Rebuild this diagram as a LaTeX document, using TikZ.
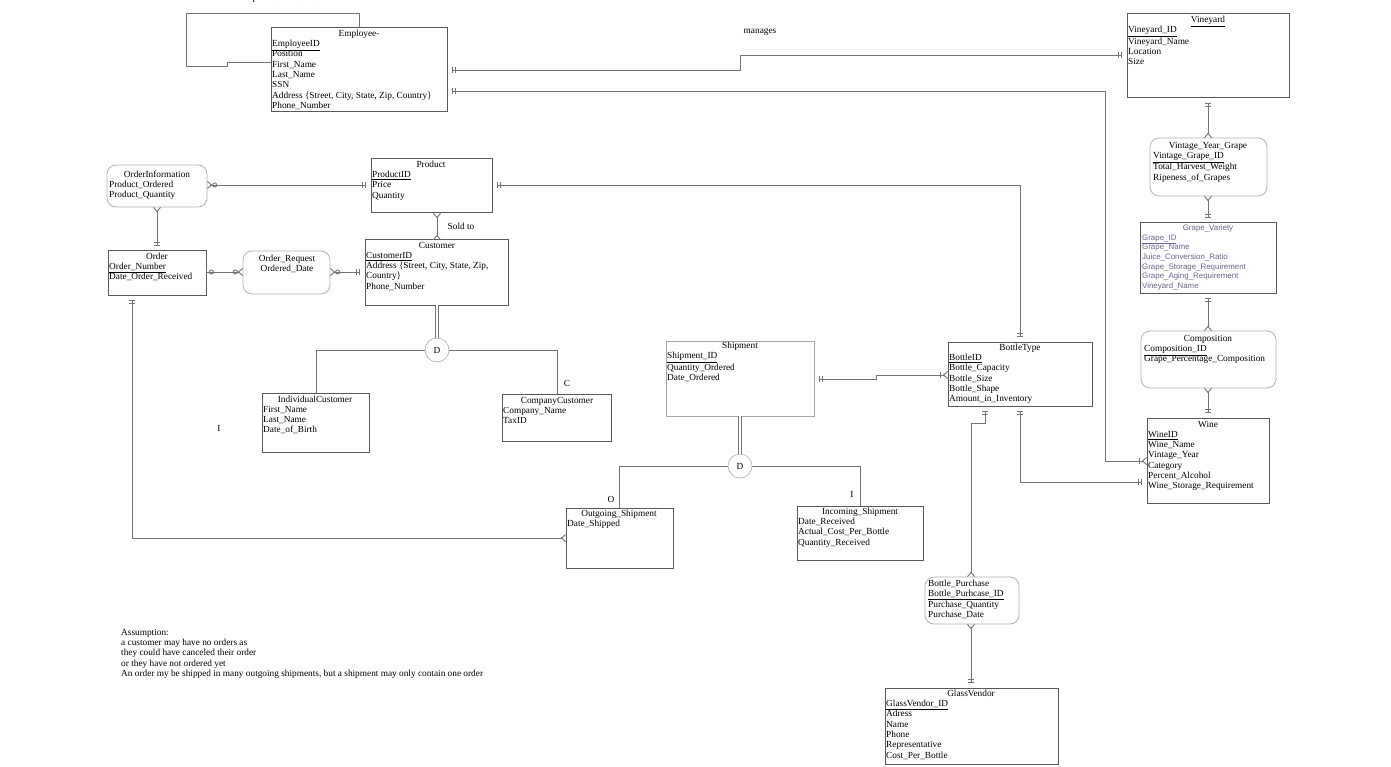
\documentclass[tikz,border=0pt]{standalone}
\usepackage{fontspec}
\setmainfont{Liberation Serif}
\newfontfamily\gvfont{Liberation Sans}
\usetikzlibrary{arrows.meta}
\newcommand\mkent[8]{%
\node[#6,anchor=north west,minimum width=#4pt,minimum height=#5pt] (#1) at (#2,#3) {};}
\begin{document}
\begin{tikzpicture}[x=1pt,y=-1pt,
 txt/.style={font=\fontsize{9.3}{10.3}\selectfont,inner sep=0pt,align=left},
 ttl/.style={txt,anchor=north},
 atr/.style={txt,anchor=north west},
 ent/.style={draw=black!65,line width=1pt,outer sep=0pt,inner sep=0pt},
 lent/.style={draw=black!35,line width=1pt,outer sep=0pt,inner sep=0pt},
 rnd/.style={draw=black!30,line width=0.8pt,rounded corners=9pt,outer sep=0pt,inner sep=0pt},
 con/.style={draw=black!55,line width=0.9pt},
 ermone/.tip={Bar[width=6pt,sep=2.5pt]Bar[width=6pt,sep=5pt]},
 ermany/.tip={Bar[width=6pt,sep=2pt]Straight Barb[reversed,length=4pt,width=7pt]},
 ermzmany/.tip={Circle[open,length=5pt,sep=0pt]Straight Barb[reversed,length=4pt,width=7pt]},
 ermzone/.tip={Circle[open,length=5pt,sep=2pt]Bar[width=6pt]},
 crow/.tip={Straight Barb[reversed,length=4pt,width=7pt]},
 dsc/.style={circle,draw=black!45,fill=white,minimum size=24pt,inner sep=0pt,font=\fontsize{9.3}{10}\selectfont}]
\useasboundingbox[fill=white] (0,0) rectangle (1391,767);

% entities
\mkent{emp}{271}{28}{176}{84}{ent}{}{}
\node[ttl] at (359,30) {Employee-};
\node[atr] at (272,40) {\underline{EmployeeID}\\Position\\First\_Name\\Last\_Name\\SSN\\Address \{Street, City, State, Zip, Country\}\\Phone\_Number};

\mkent{vin}{1127}{14}{162}{84}{ent}{}{}
\node[ttl] at (1208,16) {\underline{Vineyard}};
\node[atr] at (1128,26) {\underline{Vineyard\_ID}\\Vineyard\_Name\\Location\\Size};

\mkent{vyg}{1150}{138}{117}{58}{rnd}{}{}
\node[ttl] at (1208,142) {Vintage\_Year\_Grape};
\node[atr] at (1153,152) {\underline{Vintage\_Grape\_ID}\\Total\_Harvest\_Weight\\Ripeness\_of\_Grapes};

\mkent{gv}{1140}{223}{136}{70}{ent}{}{}
\node[ttl,font=\gvfont\fontsize{7.9}{9.6}\selectfont,text=black!75!blue!60] at (1208,225) {Grape\_Variety};
\node[atr,font=\gvfont\fontsize{7.9}{9.6}\selectfont,text=black!75!blue!60] at (1142,234.5) {\underline{Grape\_ID}\\Grape\_Name\\Juice\_Conversion\_Ratio\\Grape\_Storage\_Requirement\\Grape\_Aging\_Requirement\\Vineyard\_Name};

\mkent{cmp}{1141}{331}{135}{57}{rnd}{}{}
\node[ttl] at (1208,335) {Composition};
\node[atr] at (1144,345) {\underline{Composition\_ID}\\Grape\_Percentage\_Composition};

\mkent{wine}{1147}{418}{122}{85}{ent}{}{}
\node[ttl] at (1208,421) {Wine};
\node[atr] at (1148,431) {\underline{WineID}\\Wine\_Name\\Vintage\_Year\\Category\\Percent\_Alcohol\\Wine\_Storage\_Requirement};

\mkent{prod}{371}{159}{121}{54}{ent}{}{}
\node[ttl] at (431,161) {Product};
\node[atr] at (372,171) {\underline{ProductID}\\Price\\Quantity};

\mkent{oi}{107}{165}{100}{42}{rnd}{}{}
\node[ttl] at (157,171) {OrderInformation};
\node[atr] at (109,181) {Product\_Ordered\\Product\_Quantity};

\mkent{ord}{108}{251}{98}{44}{ent}{}{}
\node[ttl] at (157,253) {Order};
\node[atr] at (109,263) {\underline{Order\_Number}\\Date\_Order\_Received};

\mkent{orq}{243}{251}{87}{43}{rnd}{}{}
\node[ttl,align=center] at (287,255) {Order\_Request\\Ordered\_Date};

\mkent{cus}{365}{240}{143}{65}{ent}{}{}
\node[ttl] at (437,242) {Customer};
\node[atr] at (366,252) {\underline{CustomerID}\\Address \{Street, City, State, Zip,\\Country\}\\Phone\_Number};

\node[dsc] (d1) at (437,350) {D};

\mkent{ind}{262}{393}{107}{59}{ent}{}{}
\node[ttl] at (315,396) {IndividualCustomer};
\node[atr] at (263,406) {First\_Name\\Last\_Name\\Date\_of\_Birth};

\mkent{com}{502}{394}{109}{47}{ent}{}{}
\node[ttl] at (557,397) {CompanyCustomer};
\node[atr] at (503,407) {Company\_Name\\TaxID};

\node[txt] (lc) at (567,383) {C};
\node[txt] (li) at (219,428) {I};

\mkent{shp}{666}{341}{148}{75}{lent}{}{}
\node[ttl] at (740,342) {Shipment};
\node[atr] at (667,352) {\underline{Shipment\_ID}\\Quantity\_Ordered\\Date\_Ordered};

\node[dsc] (d2) at (740,466) {D};

\mkent{out}{566}{508}{107}{60}{ent}{}{}
\node[ttl] at (619,510) {Outgoing\_Shipment};
\node[atr] at (567,520) {Date\_Shipped};
\node[txt] (lo) at (611,499) {O};

\mkent{inc}{797}{506}{126}{54}{ent}{}{}
\node[ttl] at (860,508) {Incoming\_Shipment};
\node[atr] at (798,518) {Date\_Received\\Actual\_Cost\_Per\_Bottle\\Quantity\_Received};
\node[txt] (li2) at (852,494) {I};

\mkent{bot}{948}{342}{144}{64}{ent}{}{}
\node[ttl] at (1020,344) {BottleType};
\node[atr] at (949,354) {\underline{BottleID}\\Bottle\_Capacity\\Bottle\_Size\\Bottle\_Shape\\Amount\_in\_Inventory};

\mkent{bp}{925}{577}{94}{47}{rnd}{}{}
\node[atr] at (928,580) {Bottle\_Purchase\\\underline{Bottle\_Purhcase\_ID}\\Purchase\_Quantity\\Purchase\_Date};

\mkent{gls}{885}{688}{173}{76}{ent}{}{}
\node[ttl] at (971,690) {GlassVendor};
\node[atr] at (886,700) {\underline{GlassVendor\_ID}\\Adress\\Name\\Phone\\Representative\\Cost\_Per\_Bottle};

% labels
\node[txt] (lman) at (760,32) {manages};
\node[txt,anchor=south] (lsup) at (281,3) {supervisor oversees};
\node[txt] (lsold) at (461,226) {Sold to};
\node[atr] (asm) at (121,629) {Assumption:\\a customer may have no orders as\\they could have canceled their order\\or they have not ordered yet\\An order my be shipped in many outgoing shipments, but a shipment may only contain one order};

% connectors
\draw[con] (emp.west |- 0,62) -- (227,62) -- (227,66) -- (186,66) -- (186,13) -- (359,13) -- (emp.north);
\draw[con,ermone-ermone] (emp.east |- 0,70) -- (740,70) -- (740,55) -- (vin.west |- 0,55);
\draw[con,ermone-ermany] (emp.east |- 0,91) -- (1105,91) -- (1105,461) -- (wine.west |- 0,461);
\draw[con,ermone-crow] (vin.south -| 1208,0) -- (vyg.north -| 1208,0);
\draw[con,crow-ermone] (vyg.south -| 1208,0) -- (gv.north -| 1208,0);
\draw[con,ermone-crow] (gv.south -| 1208,0) -- (cmp.north -| 1208,0);
\draw[con,crow-ermone] (cmp.south -| 1208,0) -- (wine.north -| 1208,0);
\draw[con,ermone-ermone] (prod.east |- 0,185) -- (1020,185) -- (bot.north -| 1020,0);
\draw[con,ermzmany-ermone] (oi.east |- 0,185) -- (prod.west |- 0,185);
\draw[con,crow-ermone] (oi.south -| 157,0) -- (ord.north -| 157,0);
\draw[con,ermzone-ermzmany] (ord.east |- 0,272) -- (orq.west |- 0,272);
\draw[con,ermzmany-ermone] (orq.east |- 0,272) -- (cus.west |- 0,272);
\draw[con,crow-crow] (prod.south -| 437,0) -- (cus.north -| 437,0);
\draw[con,double,double distance=2.5pt] (cus.south -| 437,0) -- (d1);
\draw[con] (d1.west) -- (316,350) -- (ind.north -| 316,0);
\draw[con] (d1.east) -- (557,350) -- (com.north -| 557,0);
\draw[con,ermone-crow] (ord.south -| 132,0) -- (132,538) -- (out.west |- 0,538);
\draw[con,double,double distance=2.5pt] (shp.south -| 740,0) -- (d2);
\draw[con] (d2.west) -- (619,466) -- (out.north -| 619,0);
\draw[con] (d2.east) -- (860,466) -- (inc.north -| 860,0);
\draw[con,ermone-ermany] (shp.east |- 0,379) -- (876,379) -- (876,375) -- (bot.west |- 0,375);
\draw[con,ermone-crow] (bot.south -| 985,0) -- (985,423) -- (971,423) -- (bp.north -| 971,0);
\draw[con,ermone-ermone] (bot.south -| 1020,0) -- (1020,482) -- (wine.west |- 0,482);
\draw[con,crow-ermone] (bp.south -| 971,0) -- (gls.north -| 971,0);
\end{tikzpicture}
\end{document}
